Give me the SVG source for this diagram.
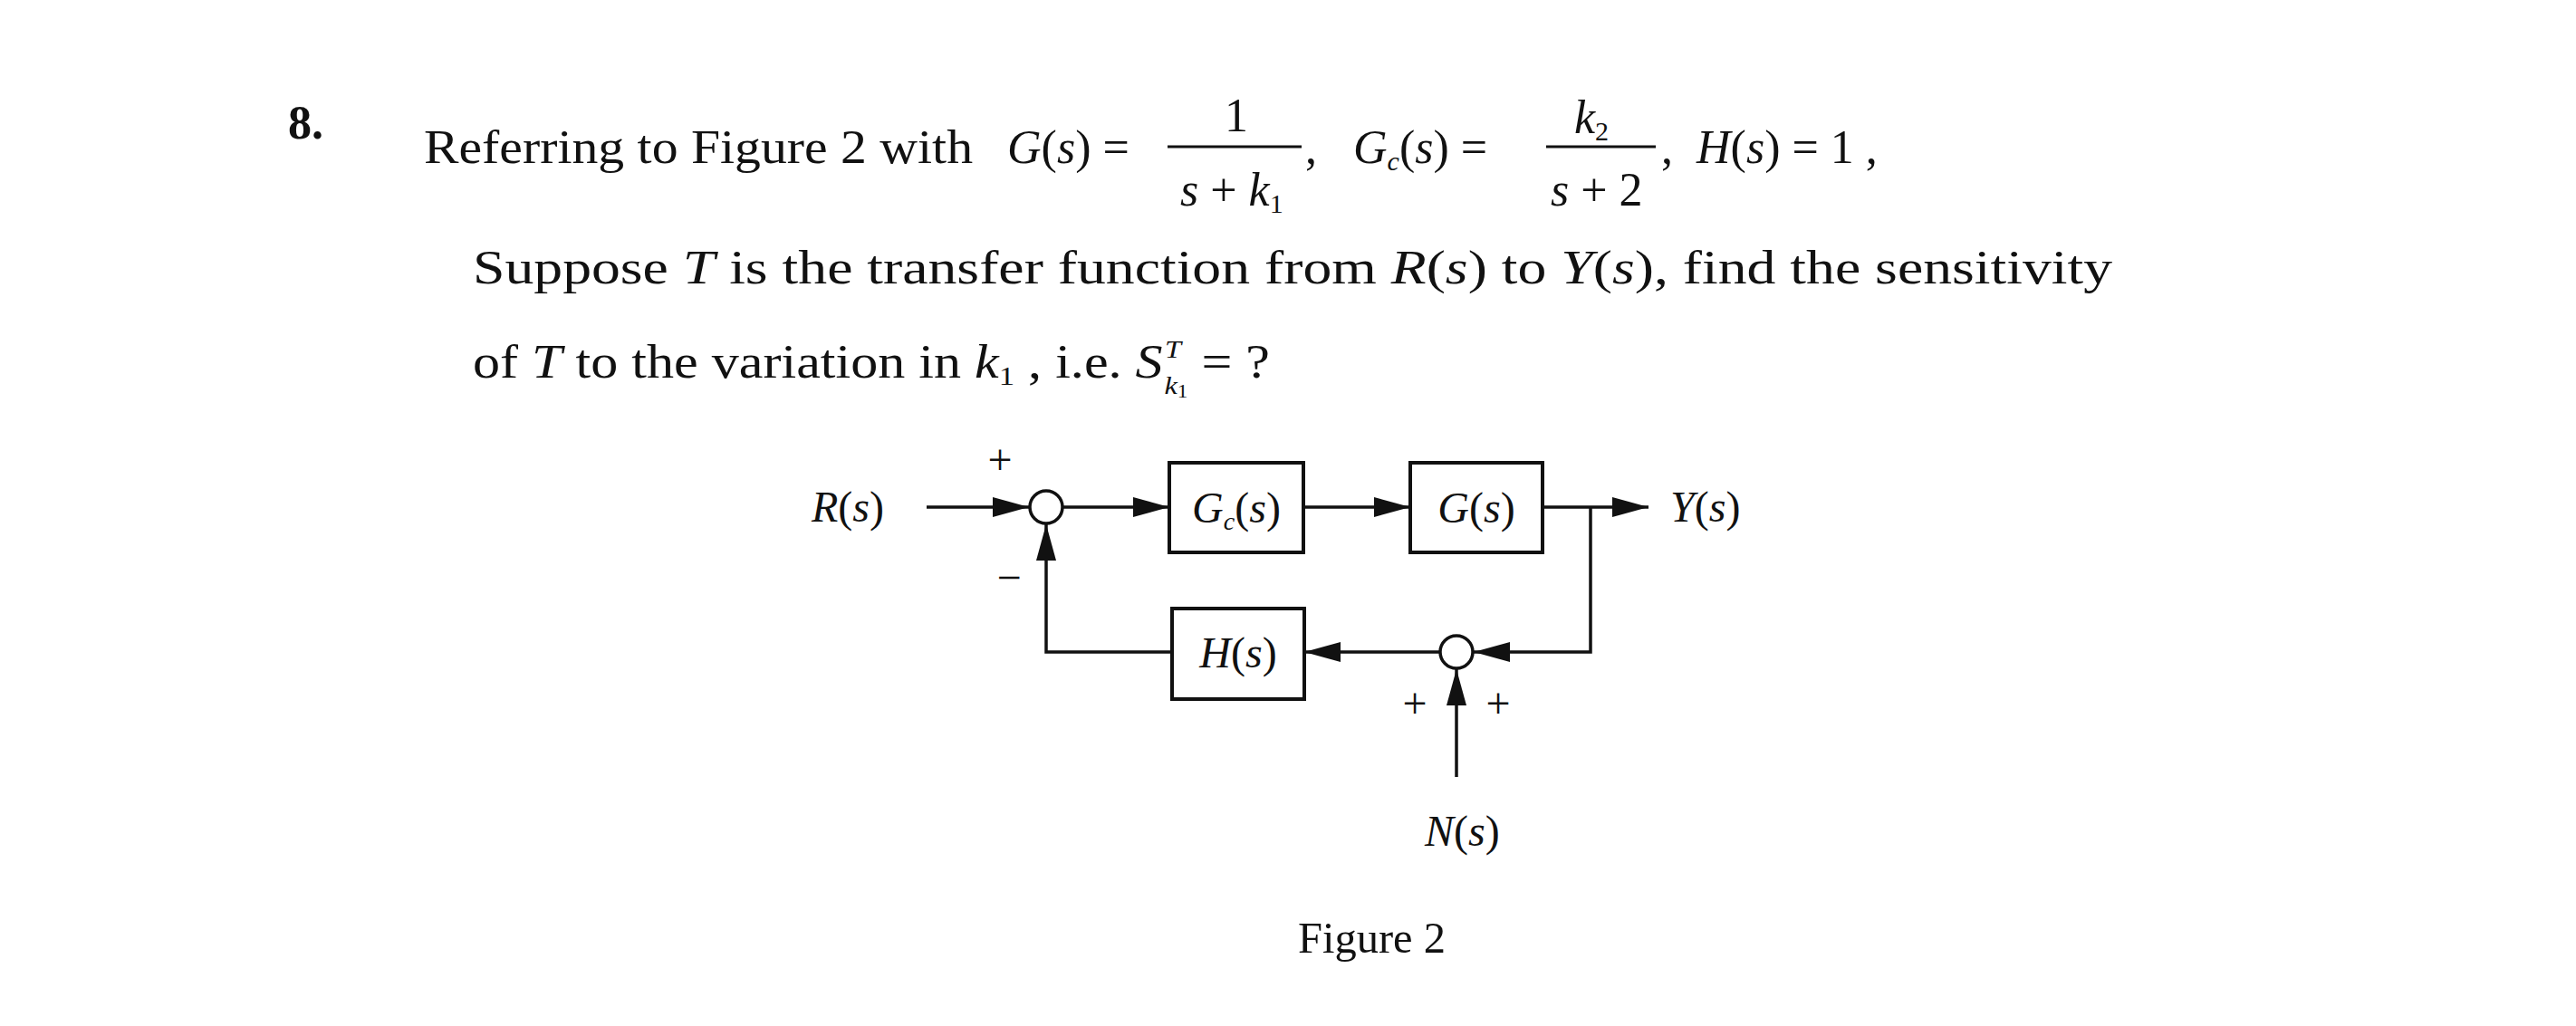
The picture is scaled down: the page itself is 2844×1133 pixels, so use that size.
<svg xmlns="http://www.w3.org/2000/svg" width="2844" height="1133" viewBox="0 0 2844 1133">
<style>
text{font-family:"Liberation Serif","Times New Roman",serif;fill:#111}
.t{font-size:52px}
.n{font-weight:bold}
.i{font-style:italic}
.d{font-size:48px}
.ln{stroke:#111;stroke-width:3.5;fill:none}
.bx{stroke:#111;stroke-width:4;fill:#fff}
</style>
<defs>
<marker id="b" viewBox="0 0 10 10" refX="10" refY="5" markerWidth="40" markerHeight="22" markerUnits="userSpaceOnUse" orient="auto" preserveAspectRatio="none"><path d="M0,0L10,5L0,10z" fill="#111"/></marker>
</defs>
<rect width="2844" height="1133" fill="#fff"/>
<g id="question">
<text class="t n" x="318" y="153">8.</text>
<text class="t" x="468" y="180" textLength="606" lengthAdjust="spacingAndGlyphs">Referring to Figure 2 with</text>
<text class="t" x="1112" y="180"><tspan class="i">G</tspan>(<tspan class="i">s</tspan>) =</text>
<line x1="1289" y1="162" x2="1437" y2="162" stroke="#111" stroke-width="3"/>
<text class="t" x="1352" y="145">1</text>
<text class="t" x="1303" y="227"><tspan class="i">s</tspan> + <tspan class="i">k</tspan><tspan font-size="30" dy="8">1</tspan></text>
<text class="t" x="1441" y="180">,</text>
<text class="t" x="1494" y="180"><tspan class="i">G</tspan><tspan font-size="30" dy="8" class="i">c</tspan><tspan dy="-8">(</tspan><tspan class="i">s</tspan>) =</text>
<line x1="1707" y1="162" x2="1828" y2="162" stroke="#111" stroke-width="3"/>
<text class="t" x="1738" y="147"><tspan class="i">k</tspan><tspan font-size="30" dy="8">2</tspan></text>
<text class="t" x="1712" y="227"><tspan class="i">s</tspan> + 2</text>
<text class="t" x="1834" y="180">,</text>
<text class="t" x="1873" y="180"><tspan class="i">H</tspan>(<tspan class="i">s</tspan>) = 1 ,</text>
<text class="t" x="522" y="313" textLength="1810" lengthAdjust="spacingAndGlyphs">Suppose <tspan class="i">T</tspan> is the transfer function from  <tspan class="i">R</tspan>(<tspan class="i">s</tspan>)  to  <tspan class="i">Y</tspan>(<tspan class="i">s</tspan>), find the sensitivity</text>
<text class="t" x="522" y="417" textLength="880" lengthAdjust="spacingAndGlyphs">of <tspan class="i">T</tspan> to the variation in  <tspan class="i">k</tspan><tspan font-size="30" dy="8">1</tspan><tspan dy="-8"> , i.e.  </tspan><tspan class="i">S</tspan><tspan font-size="28" class="i" dx="2" dy="-22">T</tspan><tspan font-size="28" class="i" dx="-16" dy="40">k</tspan><tspan font-size="20" dy="4">1</tspan><tspan dy="-22"> = ?</tspan></text>
</g>
<g id="connectors">
<line class="ln" x1="1023" y1="560" x2="1136" y2="560" marker-end="url(#b)"/>
<line class="ln" x1="1174" y1="560" x2="1291" y2="560" marker-end="url(#b)"/>
<line class="ln" x1="1439" y1="560" x2="1557" y2="560" marker-end="url(#b)"/>
<polyline class="ln" points="1703,560 1820,560" marker-end="url(#b)"/>
<polyline class="ln" points="1756,560 1756,720 1627,720" marker-end="url(#b)"/>
<line class="ln" x1="1589" y1="720" x2="1440" y2="720" marker-end="url(#b)"/>
<polyline class="ln" points="1294,720 1155,720 1155,579" marker-end="url(#b)"/>
<line class="ln" x1="1608" y1="858" x2="1608" y2="739" marker-end="url(#b)"/>
</g>
<g id="sum1"><circle cx="1155" cy="560" r="18" fill="#fff" stroke="#111" stroke-width="3.5"/></g>
<g id="sum2"><circle cx="1608" cy="720" r="18" fill="#fff" stroke="#111" stroke-width="3.5"/></g>
<g id="Gc"><rect class="bx" x="1291" y="511" width="148" height="99"/><text class="d" x="1365" y="577" text-anchor="middle"><tspan class="i">G</tspan><tspan class="i" font-size="28" dy="8">c</tspan><tspan dy="-8">(</tspan><tspan class="i">s</tspan>)</text></g>
<g id="G"><rect class="bx" x="1557" y="511" width="146" height="99"/><text class="d" x="1630" y="577" text-anchor="middle"><tspan class="i">G</tspan>(<tspan class="i">s</tspan>)</text></g>
<g id="H"><rect class="bx" x="1294" y="672" width="146" height="100"/><text class="d" x="1367" y="737" text-anchor="middle"><tspan class="i">H</tspan>(<tspan class="i">s</tspan>)</text></g>
<g id="labels">
<text class="d" x="896" y="576"><tspan class="i">R</tspan>(<tspan class="i">s</tspan>)</text>
<text class="d" x="1844" y="576"><tspan class="i">Y</tspan>(<tspan class="i">s</tspan>)</text>
<text class="d" x="1573" y="934"><tspan class="i">N</tspan>(<tspan class="i">s</tspan>)</text>
<text class="d" x="1104" y="524" text-anchor="middle">+</text>
<text class="d" x="1114" y="654" text-anchor="middle">−</text>
<text class="d" x="1562" y="793" text-anchor="middle">+</text>
<text class="d" x="1654" y="793" text-anchor="middle">+</text>
<text class="d" x="1433" y="1052" textLength="163" lengthAdjust="spacingAndGlyphs">Figure 2</text>
</g>
</svg>
